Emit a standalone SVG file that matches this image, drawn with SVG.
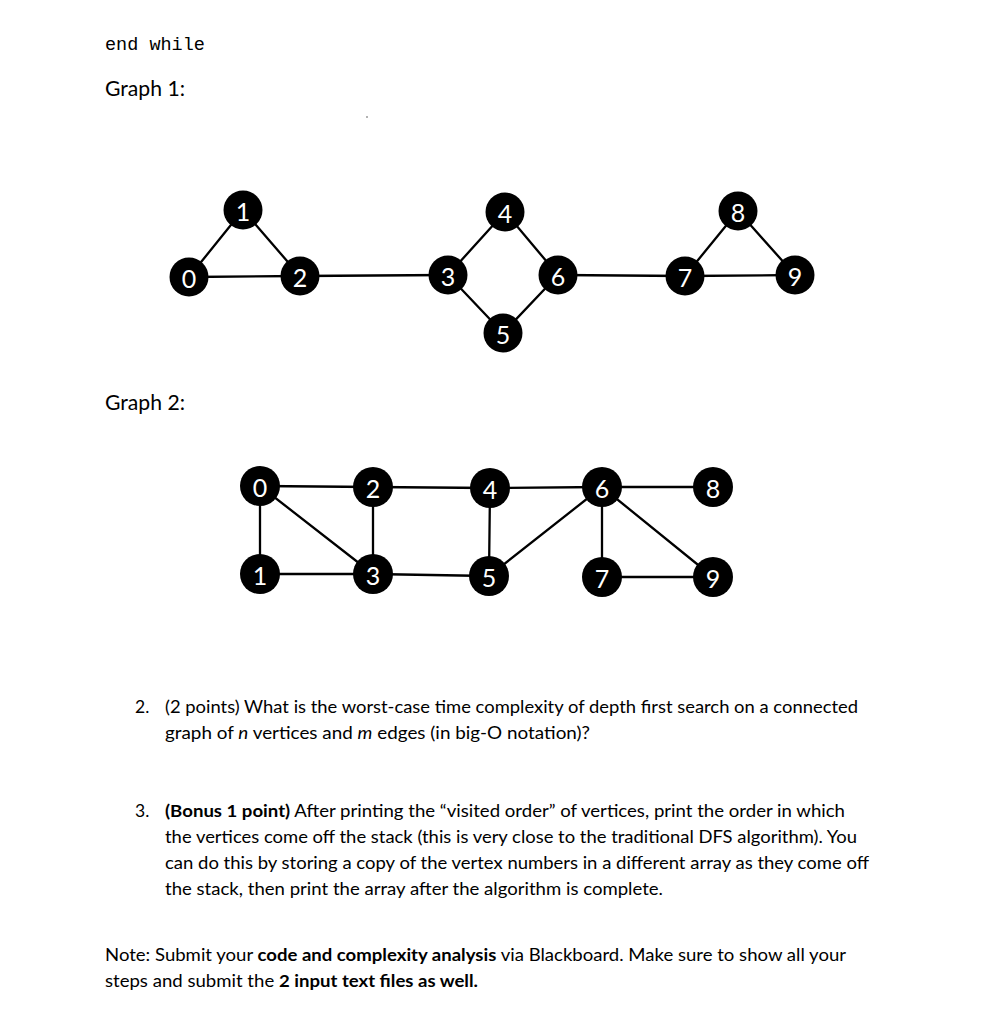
<svg xmlns="http://www.w3.org/2000/svg" width="984" height="1024" viewBox="0 0 984 1024">
<style>
.bg{fill:#ffffff}
.edge{stroke:#000;stroke-width:2.3;stroke-linecap:round}
.n1 circle{fill:#000}
.n2 circle{fill:#000}
.lbl{fill:#fff;font-family:Lato,"Liberation Sans",sans-serif;font-size:25px;text-anchor:middle;dominant-baseline:central}
.mono{font-family:"Liberation Mono","Courier New",monospace;font-size:18.5px;fill:#000}
.head{font-family:Lato,"Liberation Sans",sans-serif;font-size:21px;fill:#000}
.body{font-family:Lato,"Liberation Sans",sans-serif;font-size:17.5px;fill:#000}
.b{font-weight:bold}
.i{font-style:italic}
</style>
<rect class="bg" x="0" y="0" width="984" height="1024"/>
<text class="mono" x="105" y="50">end while</text>
<text class="head" x="105" y="96" textLength="80" lengthAdjust="spacingAndGlyphs">Graph 1:</text>
<circle cx="367" cy="117" r="1" fill="#9a9a9a"/>
<g id="connectors1">
<line class="edge" x1="189" y1="277" x2="243" y2="210"/>
<line class="edge" x1="189" y1="277" x2="300" y2="276"/>
<line class="edge" x1="243" y1="210" x2="300" y2="276"/>
<line class="edge" x1="300" y1="276" x2="448" y2="275"/>
<line class="edge" x1="448" y1="275" x2="505" y2="212"/>
<line class="edge" x1="448" y1="275" x2="503" y2="333"/>
<line class="edge" x1="505" y1="212" x2="558" y2="275"/>
<line class="edge" x1="503" y1="333" x2="558" y2="275"/>
<line class="edge" x1="558" y1="275" x2="685" y2="276"/>
<line class="edge" x1="685" y1="276" x2="738" y2="211"/>
<line class="edge" x1="685" y1="276" x2="795" y2="275"/>
<line class="edge" x1="738" y1="211" x2="795" y2="275"/>
</g>
<g id="g1-node0" class="n1"><circle cx="189" cy="277" r="19.5"/><text class="lbl" x="189" y="278">0</text></g>
<g id="g1-node1" class="n1"><circle cx="243" cy="210" r="19.5"/><text class="lbl" x="243" y="211">1</text></g>
<g id="g1-node2" class="n1"><circle cx="300" cy="276" r="19.5"/><text class="lbl" x="300" y="277">2</text></g>
<g id="g1-node3" class="n1"><circle cx="448" cy="275" r="19.5"/><text class="lbl" x="448" y="276">3</text></g>
<g id="g1-node4" class="n1"><circle cx="505" cy="212" r="19.5"/><text class="lbl" x="505" y="213">4</text></g>
<g id="g1-node5" class="n1"><circle cx="503" cy="333" r="19.5"/><text class="lbl" x="503" y="334">5</text></g>
<g id="g1-node6" class="n1"><circle cx="558" cy="275" r="19.5"/><text class="lbl" x="558" y="276">6</text></g>
<g id="g1-node7" class="n1"><circle cx="685" cy="276" r="19.5"/><text class="lbl" x="685" y="277">7</text></g>
<g id="g1-node8" class="n1"><circle cx="738" cy="211" r="19.5"/><text class="lbl" x="738" y="212">8</text></g>
<g id="g1-node9" class="n1"><circle cx="795" cy="275" r="19.5"/><text class="lbl" x="795" y="276">9</text></g>
<text class="head" x="105" y="410" textLength="80" lengthAdjust="spacingAndGlyphs">Graph 2:</text>
<g id="connectors2">
<line class="edge" x1="260" y1="486" x2="373" y2="487"/>
<line class="edge" x1="260" y1="486" x2="260" y2="574"/>
<line class="edge" x1="260" y1="486" x2="373" y2="574"/>
<line class="edge" x1="373" y1="487" x2="373" y2="574"/>
<line class="edge" x1="373" y1="487" x2="490" y2="488"/>
<line class="edge" x1="260" y1="574" x2="373" y2="574"/>
<line class="edge" x1="373" y1="574" x2="489" y2="576"/>
<line class="edge" x1="490" y1="488" x2="489" y2="576"/>
<line class="edge" x1="490" y1="488" x2="602" y2="487"/>
<line class="edge" x1="489" y1="576" x2="602" y2="487"/>
<line class="edge" x1="602" y1="487" x2="713" y2="487"/>
<line class="edge" x1="602" y1="487" x2="602" y2="577"/>
<line class="edge" x1="602" y1="487" x2="713" y2="577"/>
<line class="edge" x1="602" y1="577" x2="713" y2="577"/>
</g>
<g id="g2-node0" class="n2"><circle cx="260" cy="486" r="20"/><text class="lbl" x="260" y="487">0</text></g>
<g id="g2-node1" class="n2"><circle cx="260" cy="574" r="20"/><text class="lbl" x="260" y="575">1</text></g>
<g id="g2-node2" class="n2"><circle cx="373" cy="487" r="20"/><text class="lbl" x="373" y="488">2</text></g>
<g id="g2-node3" class="n2"><circle cx="373" cy="574" r="20"/><text class="lbl" x="373" y="575">3</text></g>
<g id="g2-node4" class="n2"><circle cx="490" cy="488" r="20"/><text class="lbl" x="490" y="489">4</text></g>
<g id="g2-node5" class="n2"><circle cx="489" cy="576" r="20"/><text class="lbl" x="489" y="577">5</text></g>
<g id="g2-node6" class="n2"><circle cx="602" cy="487" r="20"/><text class="lbl" x="602" y="488">6</text></g>
<g id="g2-node7" class="n2"><circle cx="602" cy="577" r="20"/><text class="lbl" x="602" y="578">7</text></g>
<g id="g2-node8" class="n2"><circle cx="713" cy="487" r="20"/><text class="lbl" x="713" y="488">8</text></g>
<g id="g2-node9" class="n2"><circle cx="713" cy="577" r="20"/><text class="lbl" x="713" y="578">9</text></g>
<text class="body" x="135" y="713">2.</text>
<text class="body" x="165" y="713" textLength="693" lengthAdjust="spacingAndGlyphs">(2 points) What is the worst-case time complexity of depth first search on a connected</text>
<text class="body" x="165" y="739" textLength="425" lengthAdjust="spacingAndGlyphs">graph of <tspan class="i">n</tspan> vertices and <tspan class="i">m</tspan> edges (in big-O notation)?</text>
<text class="body" x="135" y="817">3.</text>
<text class="body" x="165" y="817" textLength="680" lengthAdjust="spacingAndGlyphs"><tspan class="b">(Bonus 1 point)</tspan> After printing the “visited order” of vertices, print the order in which</text>
<text class="body" x="165" y="843" textLength="692" lengthAdjust="spacingAndGlyphs">the vertices come off the stack (this is very close to the traditional DFS algorithm). You</text>
<text class="body" x="165" y="869" textLength="704" lengthAdjust="spacingAndGlyphs">can do this by storing a copy of the vertex numbers in a different array as they come off</text>
<text class="body" x="165" y="895" textLength="498" lengthAdjust="spacingAndGlyphs">the stack, then print the array after the algorithm is complete.</text>
<text class="body" x="105" y="961" textLength="741" lengthAdjust="spacingAndGlyphs">Note: Submit your <tspan class="b">code and complexity analysis</tspan> via Blackboard. Make sure to show all your</text>
<text class="body" x="105" y="987" textLength="373" lengthAdjust="spacingAndGlyphs">steps and submit the <tspan class="b">2 input text files as well.</tspan></text>
</svg>
